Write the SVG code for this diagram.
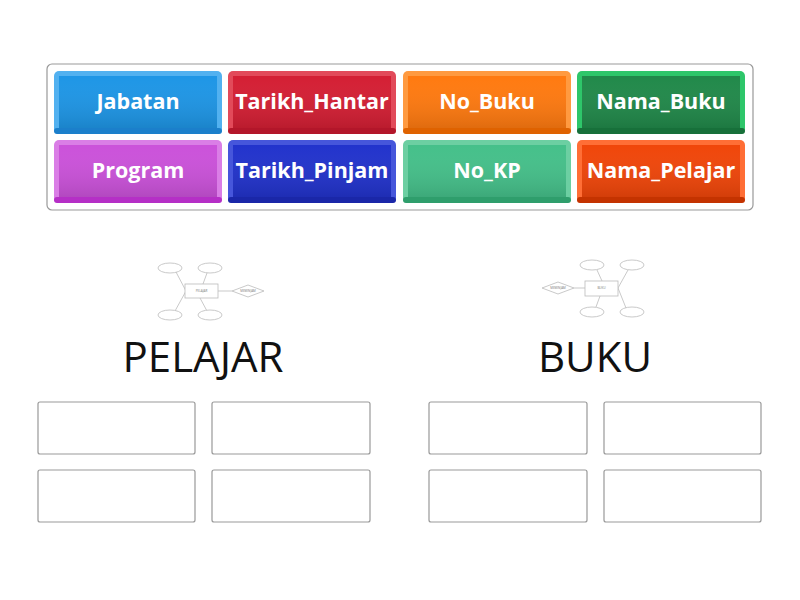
<svg xmlns="http://www.w3.org/2000/svg" width="800" height="600" viewBox="0 0 800 600">
<style>
.tl{font-family:"Open Sans","Liberation Sans",sans-serif;font-weight:700;font-size:21.5px;fill:#fff;text-anchor:middle}
.hd{font-family:"Open Sans","Liberation Sans",sans-serif;font-weight:400;font-size:42px;fill:#111;text-anchor:middle}
.slot{fill:#fff;stroke:#999;stroke-width:1.2}
.er{fill:#fff;stroke:#bbb;stroke-width:0.8}
.erl{stroke:#bbb;stroke-width:0.8;fill:none}
.ert{font-family:"Open Sans","Liberation Sans",sans-serif;font-size:3px;fill:#777;text-anchor:middle}
</style>
<defs>
<linearGradient id="sh" x1="0" y1="0" x2="0" y2="1">
<stop offset="0" stop-color="#fff" stop-opacity="0"/>
<stop offset="1" stop-color="#000" stop-opacity="0.12"/>
</linearGradient>
</defs>
<rect width="800" height="600" fill="#fff"/>
<rect x="47" y="64" width="706" height="146" rx="5" fill="#fff" stroke="#999" stroke-width="1.2"/>

<g id="tile-jabatan">
<rect x="54" y="71" width="168" height="63" rx="5" fill="#52b1f0"/>
<rect x="54" y="128" width="168" height="6" rx="3" fill="#1b7fcb"/>
<rect x="59" y="76" width="158" height="52" fill="#1e96e6"/>
<rect x="59" y="76" width="158" height="52" fill="url(#sh)"/>
<text class="tl" x="138" y="108.5">Jabatan</text>
</g>
<g id="tile-tarikh-hantar">
<rect x="228" y="71" width="168" height="63" rx="5" fill="#e24a5a"/>
<rect x="228" y="128" width="168" height="6" rx="3" fill="#b3162a"/>
<rect x="233" y="76" width="158" height="52" fill="#d41f34"/>
<rect x="233" y="76" width="158" height="52" fill="url(#sh)"/>
<text class="tl" x="312" y="108.5">Tarikh_Hantar</text>
</g>
<g id="tile-no-buku">
<rect x="403" y="71" width="168" height="63" rx="5" fill="#ff9a40"/>
<rect x="403" y="128" width="168" height="6" rx="3" fill="#df6200"/>
<rect x="408" y="76" width="158" height="52" fill="#ff7a10"/>
<rect x="408" y="76" width="158" height="52" fill="url(#sh)"/>
<text class="tl" x="487" y="108.5">No_Buku</text>
</g>
<g id="tile-nama-buku">
<rect x="577" y="71" width="168" height="63" rx="5" fill="#2ec66a"/>
<rect x="577" y="128" width="168" height="6" rx="3" fill="#17703a"/>
<rect x="582" y="76" width="158" height="52" fill="#21894a"/>
<rect x="582" y="76" width="158" height="52" fill="url(#sh)"/>
<text class="tl" x="661" y="108.5">Nama_Buku</text>
</g>
<g id="tile-program">
<rect x="54" y="140" width="168" height="63" rx="5" fill="#da7ee6"/>
<rect x="54" y="197" width="168" height="6" rx="3" fill="#b52fc6"/>
<rect x="59" y="145" width="158" height="52" fill="#cb52da"/>
<rect x="59" y="145" width="158" height="52" fill="url(#sh)"/>
<text class="tl" x="138" y="177.5">Program</text>
</g>
<g id="tile-tarikh-pinjam">
<rect x="228" y="140" width="168" height="63" rx="5" fill="#4656db"/>
<rect x="228" y="197" width="168" height="6" rx="3" fill="#1a27a8"/>
<rect x="233" y="145" width="158" height="52" fill="#2233cc"/>
<rect x="233" y="145" width="158" height="52" fill="url(#sh)"/>
<text class="tl" x="312" y="177.5">Tarikh_Pinjam</text>
</g>
<g id="tile-no-kp">
<rect x="403" y="140" width="168" height="63" rx="5" fill="#6ccfa2"/>
<rect x="403" y="197" width="168" height="6" rx="3" fill="#2f9e6c"/>
<rect x="408" y="145" width="158" height="52" fill="#45c08a"/>
<rect x="408" y="145" width="158" height="52" fill="url(#sh)"/>
<text class="tl" x="487" y="177.5">No_KP</text>
</g>
<g id="tile-nama-pelajar">
<rect x="577" y="140" width="168" height="63" rx="5" fill="#ff6e36"/>
<rect x="577" y="197" width="168" height="6" rx="3" fill="#c43300"/>
<rect x="582" y="145" width="158" height="52" fill="#f0460a"/>
<rect x="582" y="145" width="158" height="52" fill="url(#sh)"/>
<text class="tl" x="661" y="177.5">Nama_Pelajar</text>
</g>

<g id="er-pelajar">
<g class="connectors">
<line class="erl" x1="176" y1="272" x2="186" y2="291"/>
<line class="erl" x1="186" y1="291" x2="175" y2="311"/>
<line class="erl" x1="207" y1="273" x2="203" y2="284"/>
<line class="erl" x1="200" y1="298" x2="207" y2="311"/>
<line class="erl" x1="218" y1="291" x2="232" y2="291"/>
</g>
<ellipse class="er" cx="170" cy="268" rx="12" ry="5"/>
<ellipse class="er" cx="210" cy="268" rx="12" ry="5"/>
<ellipse class="er" cx="170" cy="315" rx="12" ry="5"/>
<ellipse class="er" cx="210" cy="315" rx="12" ry="5"/>
<rect class="er" x="185" y="284" width="33" height="14"/>
<polygon class="er" points="232,291 248,285 264,291 248,297"/>
<text class="ert" x="201.5" y="292">PELAJAR</text>
<text class="ert" x="248" y="292">MEMINJAM</text>
</g>

<g id="er-buku">
<g class="connectors">
<line class="erl" x1="574" y1="288" x2="585" y2="288"/>
<line class="erl" x1="597" y1="270" x2="602" y2="281"/>
<line class="erl" x1="628" y1="270" x2="618" y2="288"/>
<line class="erl" x1="618" y1="288" x2="626" y2="308"/>
<line class="erl" x1="600" y1="296" x2="596" y2="307"/>
</g>
<ellipse class="er" cx="592" cy="265" rx="12" ry="5"/>
<ellipse class="er" cx="632" cy="265" rx="12" ry="5"/>
<ellipse class="er" cx="592" cy="312" rx="12" ry="5"/>
<ellipse class="er" cx="632" cy="312" rx="12" ry="5"/>
<rect class="er" x="585" y="281" width="33" height="15"/>
<polygon class="er" points="542,288 558,282 574,288 558,294"/>
<text class="ert" x="601.5" y="289">BUKU</text>
<text class="ert" x="558" y="289">MEMINJAM</text>
</g>

<g id="group-pelajar">
<text class="hd" x="203" y="372">PELAJAR</text>
<rect class="slot" x="38" y="402" width="157" height="52" rx="2"/>
<rect class="slot" x="212" y="402" width="158" height="52" rx="2"/>
<rect class="slot" x="38" y="470" width="157" height="52" rx="2"/>
<rect class="slot" x="212" y="470" width="158" height="52" rx="2"/>
</g>
<g id="group-buku">
<text class="hd" x="595" y="372">BUKU</text>
<rect class="slot" x="429" y="402" width="158" height="52" rx="2"/>
<rect class="slot" x="604" y="402" width="157" height="52" rx="2"/>
<rect class="slot" x="429" y="470" width="158" height="52" rx="2"/>
<rect class="slot" x="604" y="470" width="157" height="52" rx="2"/>
</g>
</svg>
